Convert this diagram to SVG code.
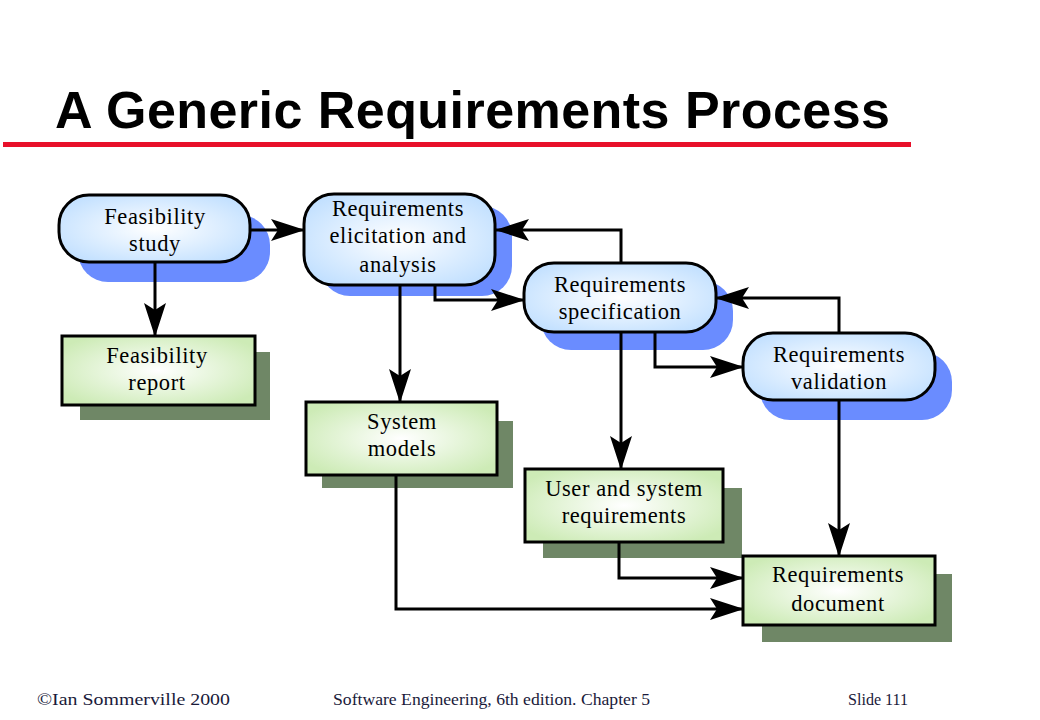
<svg xmlns="http://www.w3.org/2000/svg" width="1040" height="720" viewBox="0 0 1040 720">
<defs>
<radialGradient id="gBlue" cx="50%" cy="50%" r="60%">
<stop offset="0" stop-color="#ffffff"/>
<stop offset="1" stop-color="#c2e0ff"/>
</radialGradient>
<radialGradient id="gGreen" cx="50%" cy="50%" r="60%">
<stop offset="0" stop-color="#ffffff"/>
<stop offset="1" stop-color="#cdebb6"/>
</radialGradient>
<marker id="arr" markerUnits="userSpaceOnUse" viewBox="0 0 34 22" refX="33" refY="11" markerWidth="34" markerHeight="22" orient="auto">
<path d="M0,0 L34,11 L0,22 L7,11 z" fill="#000"/>
</marker>
<style>
.proc{fill:url(#gBlue);stroke:#000;stroke-width:3}
.pshadow{fill:#6a8cff}
.doc{fill:url(#gGreen);stroke:#000;stroke-width:3}
.dshadow{fill:#6f8766}
.lbl{font-family:"Liberation Serif","Times New Roman",serif;font-size:22.5px;letter-spacing:0.6px;fill:#000;text-anchor:middle}
.conn{fill:none;stroke:#000;stroke-width:3;marker-end:url(#arr)}
.foot{font-family:"Liberation Serif","Times New Roman",serif;font-size:16px;fill:#1a1a3a}
.title{font-family:"Liberation Sans",Arial,sans-serif;font-weight:bold;font-size:52px;fill:#000}
</style>
</defs>
<rect width="1040" height="720" fill="#fff"/>
<text class="title" x="55" y="128" textLength="835" lengthAdjust="spacing">A Generic Requirements Process</text>
<rect x="3" y="142" width="908" height="5" fill="#e8102a"/>

<g id="feasibility-study">
<rect class="pshadow" x="78" y="215" width="192" height="67" rx="30" ry="30"/>
<rect class="proc" x="59" y="195" width="191" height="67" rx="30" ry="30"/>
<text class="lbl" x="155" y="224">Feasibility</text>
<text class="lbl" x="155" y="251">study</text>
</g>
<g id="req-elicitation">
<rect class="pshadow" x="320" y="206" width="192" height="90" rx="30" ry="30"/>
<rect class="proc" x="304" y="194" width="191" height="91" rx="30" ry="30"/>
<text class="lbl" x="398" y="216">Requirements</text>
<text class="lbl" x="398" y="243">elicitation and</text>
<text class="lbl" x="398" y="272">analysis</text>
</g>
<g id="req-specification">
<rect class="pshadow" x="541" y="281" width="192" height="69" rx="30" ry="30"/>
<rect class="proc" x="524" y="263" width="192" height="69" rx="30" ry="30"/>
<text class="lbl" x="620" y="292">Requirements</text>
<text class="lbl" x="620" y="319">specification</text>
</g>
<g id="req-validation">
<rect class="pshadow" x="760" y="352" width="192" height="68" rx="30" ry="30"/>
<rect class="proc" x="743" y="333" width="192" height="67" rx="30" ry="30"/>
<text class="lbl" x="839" y="362">Requirements</text>
<text class="lbl" x="839" y="389">validation</text>
</g>
<g id="feasibility-report">
<rect class="dshadow" x="80" y="352" width="190" height="68"/>
<rect class="doc" x="62" y="336" width="193" height="69"/>
<text class="lbl" x="157" y="363">Feasibility</text>
<text class="lbl" x="157" y="390">report</text>
</g>
<g id="system-models">
<rect class="dshadow" x="322" y="421" width="191" height="67"/>
<rect class="doc" x="306" y="402" width="191" height="73"/>
<text class="lbl" x="402" y="429">System</text>
<text class="lbl" x="402" y="456">models</text>
</g>
<g id="user-system-requirements">
<rect class="dshadow" x="543" y="488" width="199" height="70"/>
<rect class="doc" x="525" y="469" width="198" height="73"/>
<text class="lbl" x="624" y="496">User and system</text>
<text class="lbl" x="624" y="523">requirements</text>
</g>
<g id="requirements-document">
<rect class="dshadow" x="762" y="574" width="190" height="68"/>
<rect class="doc" x="743" y="556" width="192" height="69"/>
<text class="lbl" x="838" y="582">Requirements</text>
<text class="lbl" x="838" y="611">document</text>
</g>

<g id="connectors">
<path class="conn" d="M250,230 L304,230"/>
<path class="conn" d="M155,262 L155,336"/>
<path class="conn" d="M400,285 L400,402"/>
<path class="conn" d="M435,285 L435,300 L524,300"/>
<path class="conn" d="M621,263 L621,230 L496,230"/>
<path class="conn" d="M621,332 L621,469"/>
<path class="conn" d="M655,332 L655,367 L743,367"/>
<path class="conn" d="M839,333 L839,298 L716,298"/>
<path class="conn" d="M839,400 L839,556"/>
<path class="conn" d="M619,542 L619,578 L743,578"/>
<path class="conn" d="M396,475 L396,609 L743,609"/>
</g>

<text class="foot" x="37" y="705" textLength="193" lengthAdjust="spacingAndGlyphs">©Ian Sommerville  2000</text>
<text class="foot" x="333" y="705" textLength="317" lengthAdjust="spacingAndGlyphs">Software Engineering, 6th edition. Chapter 5</text>
<text class="foot" x="848" y="705" textLength="60" lengthAdjust="spacingAndGlyphs">Slide  111</text>
</svg>
